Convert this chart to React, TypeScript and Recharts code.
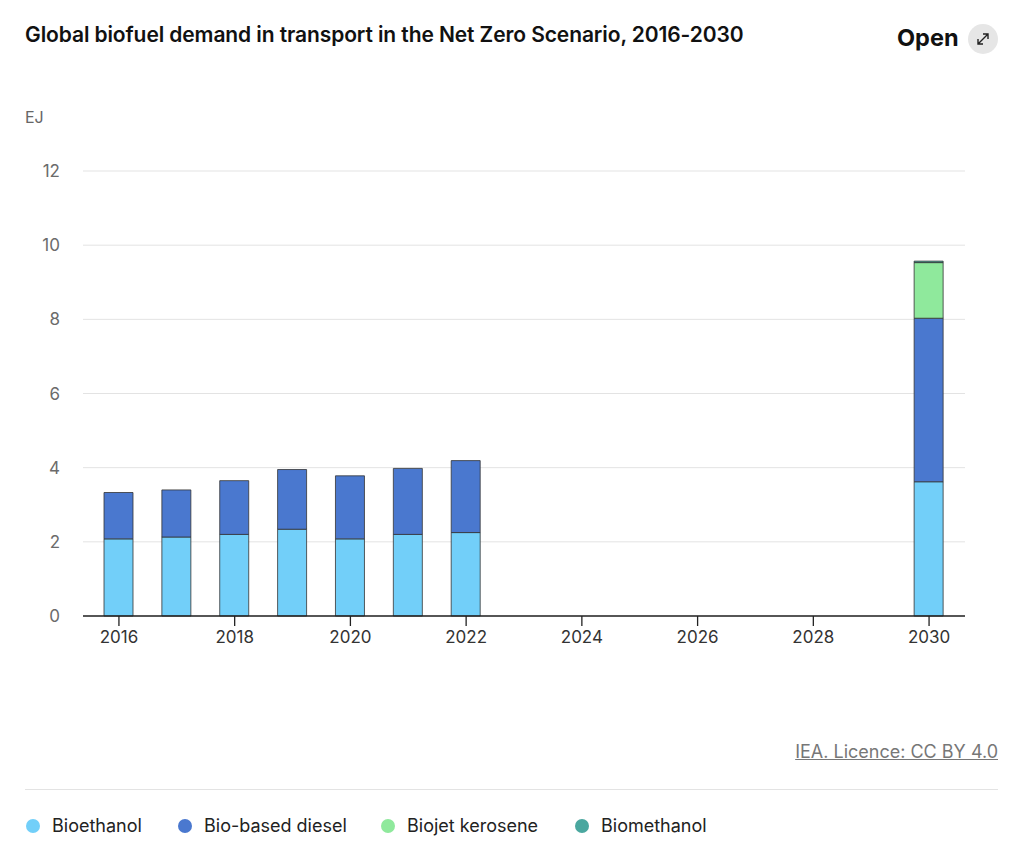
import React from "react";
import { BarChart, Bar, XAxis, YAxis, CartesianGrid } from "recharts";

const years = [2016, 2017, 2018, 2019, 2020, 2021, 2022, 2023, 2024, 2025, 2026, 2027, 2028, 2029, 2030];
const bioethanol = [2.08, 2.13, 2.2, 2.34, 2.08, 2.2, 2.25, null, null, null, null, null, null, null, 3.62];
const biodiesel = [1.25, 1.27, 1.45, 1.61, 1.7, 1.78, 1.94, null, null, null, null, null, null, null, 4.41];
const biojet = [null, null, null, null, null, null, null, null, null, null, null, null, null, null, 1.5];
const biomethanol = [null, null, null, null, null, null, null, null, null, null, null, null, null, null, 0.04];
const yTicks = [0, 2, 4, 6, 8, 10, 12];

const seriesNames = ["Bioethanol", "Bio-based diesel", "Biojet kerosene", "Biomethanol"];
const seriesKeys = ["bioethanol", "biodiesel", "biojet", "biomethanol"];
const seriesColors = ["#72cff9", "#4a78cf", "#8fe99c", "#4aa79f"];
const legendX = [33, 185, 388, 582];

const data = years.map((y, i) => ({
  year: y,
  bioethanol: bioethanol[i],
  biodiesel: biodiesel[i],
  biojet: biojet[i],
  biomethanol: biomethanol[i],
}));

const FONT = "Inter, 'Noto Sans', sans-serif";

export default function App() {
  return (
    <div style={{ position: "absolute", left: 0, top: 0, width: 1024, height: 860, background: "#fff", fontFamily: FONT, overflow: "hidden" }}>
      <div style={{ position: "absolute", left: 25, top: 21, fontSize: 21, fontWeight: 600, color: "#111", lineHeight: "28px", whiteSpace: "nowrap", letterSpacing: -0.1 }}>
        Global biofuel demand in transport in the Net Zero Scenario, 2016-2030
      </div>
      <div style={{ position: "absolute", left: 897, top: 23, fontSize: 23.5, fontWeight: 700, color: "#111", lineHeight: "30px" }}>Open</div>
      <svg style={{ position: "absolute", left: 968, top: 24 }} width={30} height={30}>
        <circle cx={15} cy={15} r={15} fill="#e6e6e6" />
        <path d="M10 20 L20 10 M15 10 L20 10 L20 15 M10 15 L10 20 L15 20" stroke="#222" strokeWidth={1.4} fill="none" />
      </svg>
      <div style={{ position: "absolute", left: 25, top: 107, fontSize: 16, color: "#666", lineHeight: "20px" }}>EJ</div>
      <div style={{ position: "absolute", left: 0, top: 0 }}>
        <BarChart
          width={1024}
          height={700}
          data={data}
          margin={{ top: 171, right: 59, left: 0, bottom: 54 }}
          barSize={29}
        >
          <CartesianGrid vertical={false} stroke="#e3e3e3" />
          <XAxis
            dataKey="year"
            interval={1}
            padding={{ left: 7, right: 7 }}
            axisLine={{ stroke: "#222", strokeWidth: 1.3 }}
            tickLine={{ stroke: "#222", strokeWidth: 1.3 }}
            tickSize={10}
            tickMargin={5}
            height={30}
            tick={{ fill: "#333", fontSize: 17, fontFamily: FONT }}
          />
          <YAxis
            width={83}
            domain={[0, 12]}
            ticks={yTicks}
            axisLine={false}
            tickLine={false}
            tickSize={6}
            tickMargin={17}
            tick={{ fill: "#6b6b6b", fontSize: 17, fontFamily: FONT }}
          />
          {seriesKeys.map((k, i) => (
            <Bar
              key={k}
              dataKey={k}
              name={seriesNames[i]}
              stackId="a"
              fill={seriesColors[i]}
              stroke="#333"
              strokeWidth={0.8}
              isAnimationActive={false}
            />
          ))}
        </BarChart>
      </div>
      <div style={{ position: "absolute", right: 26, top: 740, fontSize: 18, color: "#777", textDecoration: "underline", lineHeight: "24px" }}>
        IEA. Licence: CC BY 4.0
      </div>
      <div style={{ position: "absolute", left: 25, top: 789, width: 973, height: 1, background: "#e3e3e3" }} />
      {seriesNames.map((n, i) => (
        <div key={n} style={{ position: "absolute", left: legendX[i] - 7, top: 814, display: "flex", alignItems: "center", fontSize: 18, color: "#222", lineHeight: "24px", whiteSpace: "nowrap" }}>
          <span style={{ display: "inline-block", width: 14, height: 14, borderRadius: "50%", background: seriesColors[i], marginRight: 12 }} />
          <span>{n}</span>
        </div>
      ))}
    </div>
  );
}
